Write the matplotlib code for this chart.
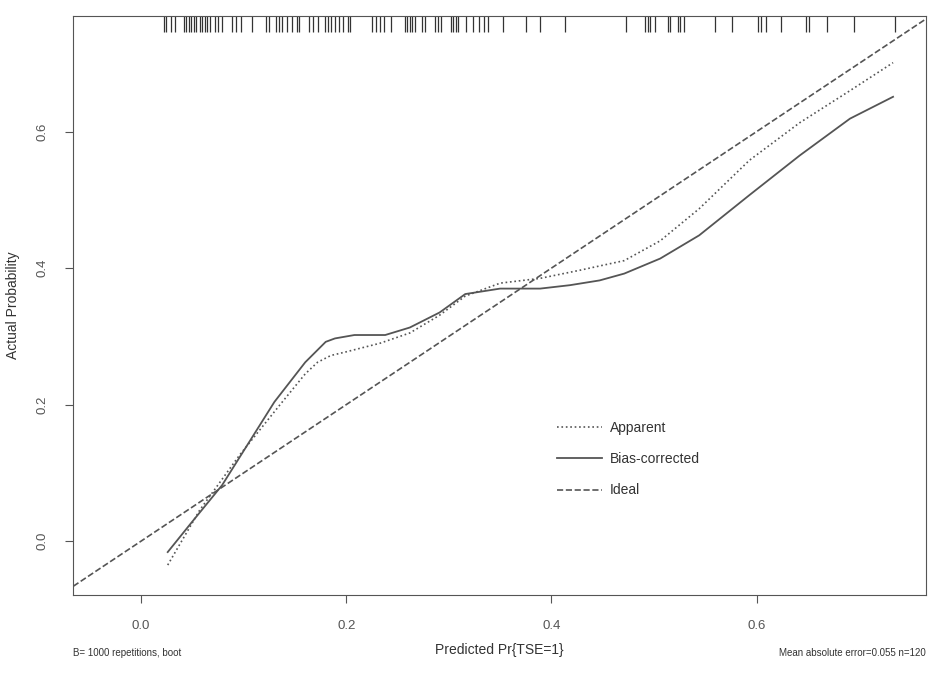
"""Calibration curve (rms calibrate style)."""
import matplotlib
matplotlib.use("Agg")
import matplotlib.pyplot as plt

plt.rcParams["font.family"] = ["Liberation Sans", "DejaVu Sans"]

# predicted values shown as rug at top
rug = [0.022, 0.024, 0.029, 0.033, 0.042, 0.044, 0.047, 0.049, 0.052, 0.054, 0.057, 0.059,
       0.062, 0.064, 0.067, 0.072, 0.075, 0.079, 0.089, 0.093, 0.097, 0.108, 0.122, 0.125,
       0.132, 0.134, 0.137, 0.142, 0.147, 0.152, 0.154, 0.164, 0.168, 0.172, 0.179, 0.182,
       0.185, 0.189, 0.193, 0.197, 0.202, 0.204, 0.225, 0.229, 0.233, 0.237, 0.244, 0.257,
       0.259, 0.262, 0.264, 0.267, 0.274, 0.277, 0.287, 0.289, 0.292, 0.302, 0.304, 0.307,
       0.309, 0.317, 0.324, 0.329, 0.334, 0.338, 0.353, 0.375, 0.389, 0.413, 0.473, 0.491,
       0.494, 0.496, 0.501, 0.514, 0.516, 0.523, 0.525, 0.529, 0.559, 0.576, 0.601, 0.604,
       0.609, 0.624, 0.648, 0.651, 0.669, 0.695, 0.735]

app_x = [0.026, 0.057, 0.096, 0.135, 0.160, 0.172, 0.185, 0.199, 0.233, 0.262, 0.291, 0.316,
         0.35, 0.389, 0.428, 0.471, 0.506, 0.544, 0.593, 0.642, 0.691, 0.733]
app_y = [-0.035, 0.045, 0.126, 0.199, 0.245, 0.262, 0.272, 0.277, 0.29, 0.305, 0.331, 0.359,
         0.378, 0.385, 0.397, 0.411, 0.44, 0.487, 0.558, 0.613, 0.66, 0.701]

bc_x = [0.026, 0.048, 0.079, 0.13, 0.160, 0.172, 0.180, 0.189, 0.208, 0.238, 0.262, 0.291,
        0.316, 0.35, 0.389, 0.418, 0.447, 0.471, 0.506, 0.544, 0.593, 0.642, 0.691, 0.733]
bc_y = [-0.016, 0.025, 0.082, 0.204, 0.262, 0.28, 0.292, 0.297, 0.302, 0.302, 0.313, 0.335,
        0.362, 0.37, 0.37, 0.375, 0.382, 0.392, 0.414, 0.448, 0.507, 0.565, 0.619, 0.651]

lim_x = (-0.066, 0.765)
lim_y = (-0.079, 0.769)

fig = plt.figure(figsize=(9.4, 6.77), dpi=100)
ax = fig.add_axes([0.078, 0.121, 0.907, 0.855])
col = "#555555"

ax.plot(app_x, app_y, linestyle=":", color=col, lw=1.2, label="Apparent")
ax.plot(bc_x, bc_y, linestyle="-", color=col, lw=1.3, label="Bias-corrected")
ax.plot(lim_x, lim_x, linestyle="--", color=col, lw=1.2, label="Ideal")
ax.vlines(rug, 0.972, 1.0, transform=ax.get_xaxis_transform(), color="#333333", lw=0.9)

ax.set_xlim(lim_x)
ax.set_ylim(lim_y)
ax.set_xticks([0.0, 0.2, 0.4, 0.6])
ax.set_yticks([0.0, 0.2, 0.4, 0.6])
ax.tick_params(colors=col, labelsize=9.5, length=6, pad=12)
for lab in ax.get_yticklabels():
    lab.set_rotation(90)
    lab.set_va("center")
for s in ax.spines.values():
    s.set_color(col)
ax.set_xlabel("Predicted Pr{TSE=1}", color="#333333", fontsize=10, labelpad=8)
ax.set_ylabel("Actual Probability", color="#333333", fontsize=10, labelpad=12)

ax.legend(loc="center left", bbox_to_anchor=(0.553, 0.235), frameon=False, fontsize=10,
          handlelength=3.2, handletextpad=0.6, labelspacing=1.25, labelcolor="#333333")

fig.text(0.078, 0.031, "B= 1000 repetitions, boot", fontsize=7, color="#333333")
fig.text(0.985, 0.031, "Mean absolute error=0.055 n=120", fontsize=7, color="#333333", ha="right")

fig.savefig("out.png", dpi=100)
